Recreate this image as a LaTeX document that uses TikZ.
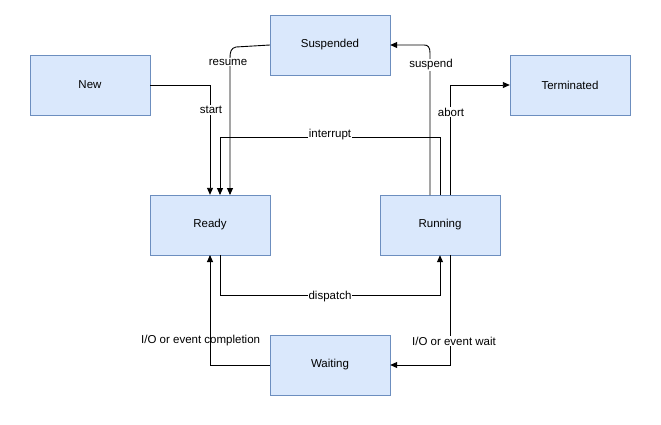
\documentclass[tikz,border=0pt]{standalone}
\usepackage{fontspec}
\setmainfont{Liberation Sans}
\usetikzlibrary{arrows.meta}
\definecolor{boxfill}{HTML}{DAE8FC}
\definecolor{boxline}{HTML}{6C8EBF}
\begin{document}
\begin{tikzpicture}[x=1pt,y=-1pt,
  state/.style={draw=boxline,fill=boxfill,minimum width=120pt,minimum height=60pt,inner sep=0pt,font=\fontsize{11.5}{13}\selectfont},
  flow/.style={draw,line width=0.9pt,-{Triangle[length=7pt,width=6pt]}},
  lab/.style={fill=white,inner sep=1pt,font=\fontsize{11.5}{13}\selectfont}]
\useasboundingbox (0,0) rectangle (661,424);
% labels that sit under boxes come first
\coordinate (c1) at (210,365);
\node[lab,anchor=west] (lcomp) at (140,341) {I/O or event completion};
% states
\node[state] (new) at (90,85) {New};
\node[state] (susp) at (330,45) {Suspended};
\node[state] (term) at (570,85) {Terminated};
\node[state] (ready) at (210,225) {Ready};
\node[state] (run) at (440,225) {Running};
% connectors
\draw[flow] (new.east) -- (210,85) -- (ready.north);
\draw[flow] (susp.west) -- (236,47) .. controls (231,48) and (230,52) .. (230,58) -- (230,195);
\draw[flow] (440,195) -- (440,137) -- (220,137) -- (220,195);
\draw[flow] (430,195) -- (430,53) .. controls (430,47) and (428,45) .. (424,45) -- (susp.east);
\draw[flow] (450,195) -- (450,85) -- (term.west);
\draw[flow] (220,255) -- (220,295) -- (440,295) -- (run.south);
\node[lab] at (330,297) {dispatch};
\node[lab] at (330,135) {interrupt};
\node[lab] at (228,62) {resume};
\node[lab] at (211,110) {start};
\node[lab] at (431,65) {suspend};
\node[lab] at (451,112) {abort};
\node[state] (wait) at (330,365) {Waiting};
\draw[flow] (wait.west) -- (c1) -- (210,255);
\draw[flow] (450,255) -- (450,365) -- (wait.east);
\node[lab] at (454,341) {I/O or event wait};
\end{tikzpicture}
\end{document}
